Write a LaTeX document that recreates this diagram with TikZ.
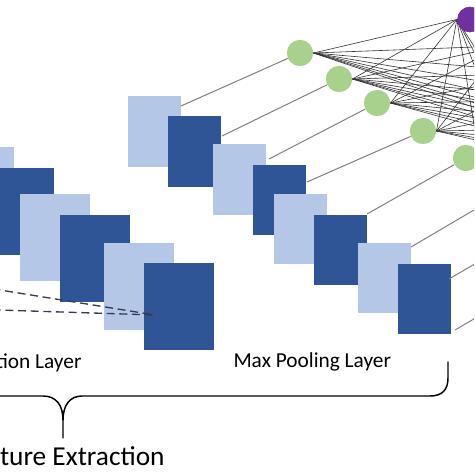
\documentclass[tikz,border=0pt]{standalone}
\usepackage{fontspec}
\setmainfont{Carlito}
\usetikzlibrary{calc}

\definecolor{mapLight}{RGB}{180,199,231}
\definecolor{mapDark}{RGB}{47,85,151}
\definecolor{unitGreen}{RGB}{169,209,142}
\definecolor{unitPurple}{RGB}{112,48,160}

\tikzset{every picture/.style={line width=0.75pt},
  convlight/.style={fill=mapLight, draw=none, anchor=north west, inner sep=0pt, minimum width=52.5pt, minimum height=65.25pt},
  convdark/.style={convlight, fill=mapDark},
  poollight/.style={fill=mapLight, draw=none, anchor=north west, inner sep=0pt, minimum width=39.75pt, minimum height=52.5pt},
  pooldark/.style={poollight, fill=mapDark},
  flatunit/.style={circle, fill=unitGreen, draw=none, inner sep=0pt, minimum size=19.5pt},
  denseunit/.style={flatunit, fill=unitPurple, minimum size=19pt},
  feed/.style={color={rgb, 255:red, 128; green, 128; blue, 128 }, line width=0.75pt},
  fan/.style={color=black!80, line width=0.45pt},
  kernel/.style={color={rgb, 255:red, 50; green, 60; blue, 85 }, line width=1pt, dash pattern=on 6pt off 3.5pt},
  brace/.style={line width=1.1pt, line cap=round}
}

\begin{document}
\begin{tikzpicture}[x=0.75pt,y=0.75pt,yscale=-1,xscale=1]
\useasboundingbox (0,0) rectangle (474,474);
\clip (0,0) rectangle (474,474);

%Shape: Rectangle (convolution maps)
\node [convlight] (lc1) at (-57,147) {};
\node [convdark] (dc1) at (-17,167) {};
\node [convlight] (lc2) at (19,193) {};
\node [convdark] (dc2) at (59,214) {};
\node [convlight] (lc3) at (103,242) {};
\node [convdark] (dc3) at (143,262) {};

%Shape: Rectangle (pooling maps)
\node [poollight] (lp1) at (127,96) {};
\node [pooldark] (dp1) at (167,116) {};
\node [poollight] (lp2) at (212,144) {};
\node [pooldark] (dp2) at (252,164) {};
\node [poollight] (lp3) at (273,193) {};
\node [pooldark] (dp3) at (313,214) {};
\node [poollight] (lp4) at (357,242) {};
\node [pooldark] (dp4) at (397,263) {};

%Shape: Circle (flattened units)
\node [flatunit] (g1) at (300,53) {};
\node [flatunit] (g2) at (339,79) {};
\node [flatunit] (g3) at (377,103) {};
\node [flatunit] (g4) at (423,131) {};
\node [flatunit] (g5) at (466,158) {};
\node [flatunit] (g6) at (508,190) {};
\node [flatunit] (g7) at (550,220) {};
\node [flatunit] (g8) at (592,250) {};

%Shape: Circle (dense units)
\node [denseunit] (n1) at (470,19.5) {};
\node [denseunit] (n2) at (515,46) {};
\node [denseunit] (n3) at (560,73) {};
\node [denseunit] (n4) at (605,100) {};
\node [denseunit] (n5) at (650,127) {};
\node [denseunit] (n6) at (695,154) {};
\node [denseunit] (n7) at (740,181) {};
\node [denseunit] (n8) at (785,208) {};

%Straight Lines (maps to units)
\draw [feed] ($(lp1.north east)+(0,10)$) -- (g1) ;
\draw [feed] ($(dp1.north east)+(1,20)$) -- (g2) ;
\draw [feed] ($(lp2.north east)+(3,15)$) -- (g3) ;
\draw [feed] ($(dp2.north east)+(1,18)$) -- (g4) ;
\draw [feed] (dp3.north east) -- (g5) ;
\draw [feed] ($(lp4.north east)+(0,5)$) -- (g6) ;
\draw [feed] ($(dp4.north east)+(-2,16)$) -- (g7) ;
\draw [feed] ($(dp4.south east)+(4,-4)$) -- (g8) ;

%Straight Lines (fully connected)
\foreach \i in {1,...,8}
  \foreach \j in {1,...,8}
    \draw [fan] (g\i.east) -- (n\j.west) ;

%Redraw units over the fan
\foreach \i in {1,...,8}
  \path (g\i) node [flatunit] {};
\foreach \j in {1,...,8}
  \path (n\j) node [denseunit] {};

%Straight Lines (dashed kernel)
\coordinate (kup) at (-20,286.8);
\coordinate (klow) at (-20,309.4);
\coordinate (ktip) at (155,315);
\draw [kernel] (kup) -- (ktip) ;
\draw [kernel] (klow) -- (ktip) ;

%Curve Lines (brace)
\coordinate (btip) at (63,438);
\draw [brace] (-10,396) -- (43,396) .. controls (56,396) and (63,405) .. (63,420) -- (btip) ;
\draw [brace] (63,420) .. controls (63,405) and (70,396) .. (82,396) -- (430,396) .. controls (442,396) and (448,390) .. (448,378) -- (448,362) ;

% Text Node
\node [anchor=base east, inner sep=0pt, font=\fontsize{16}{19}\selectfont] (convlabel) at (82,368) {Convolution Layer};
% Text Node
\node [anchor=base west, inner sep=0pt, font=\fontsize{16}{19}\selectfont] (poollabel) at (233,367) {Max Pooling Layer};
% Text Node
\node [anchor=base, inner sep=0pt, font=\fontsize{20.5}{24}\selectfont] (featlabel) at (63,465) {Feature Extraction};

\end{tikzpicture}
\end{document}
